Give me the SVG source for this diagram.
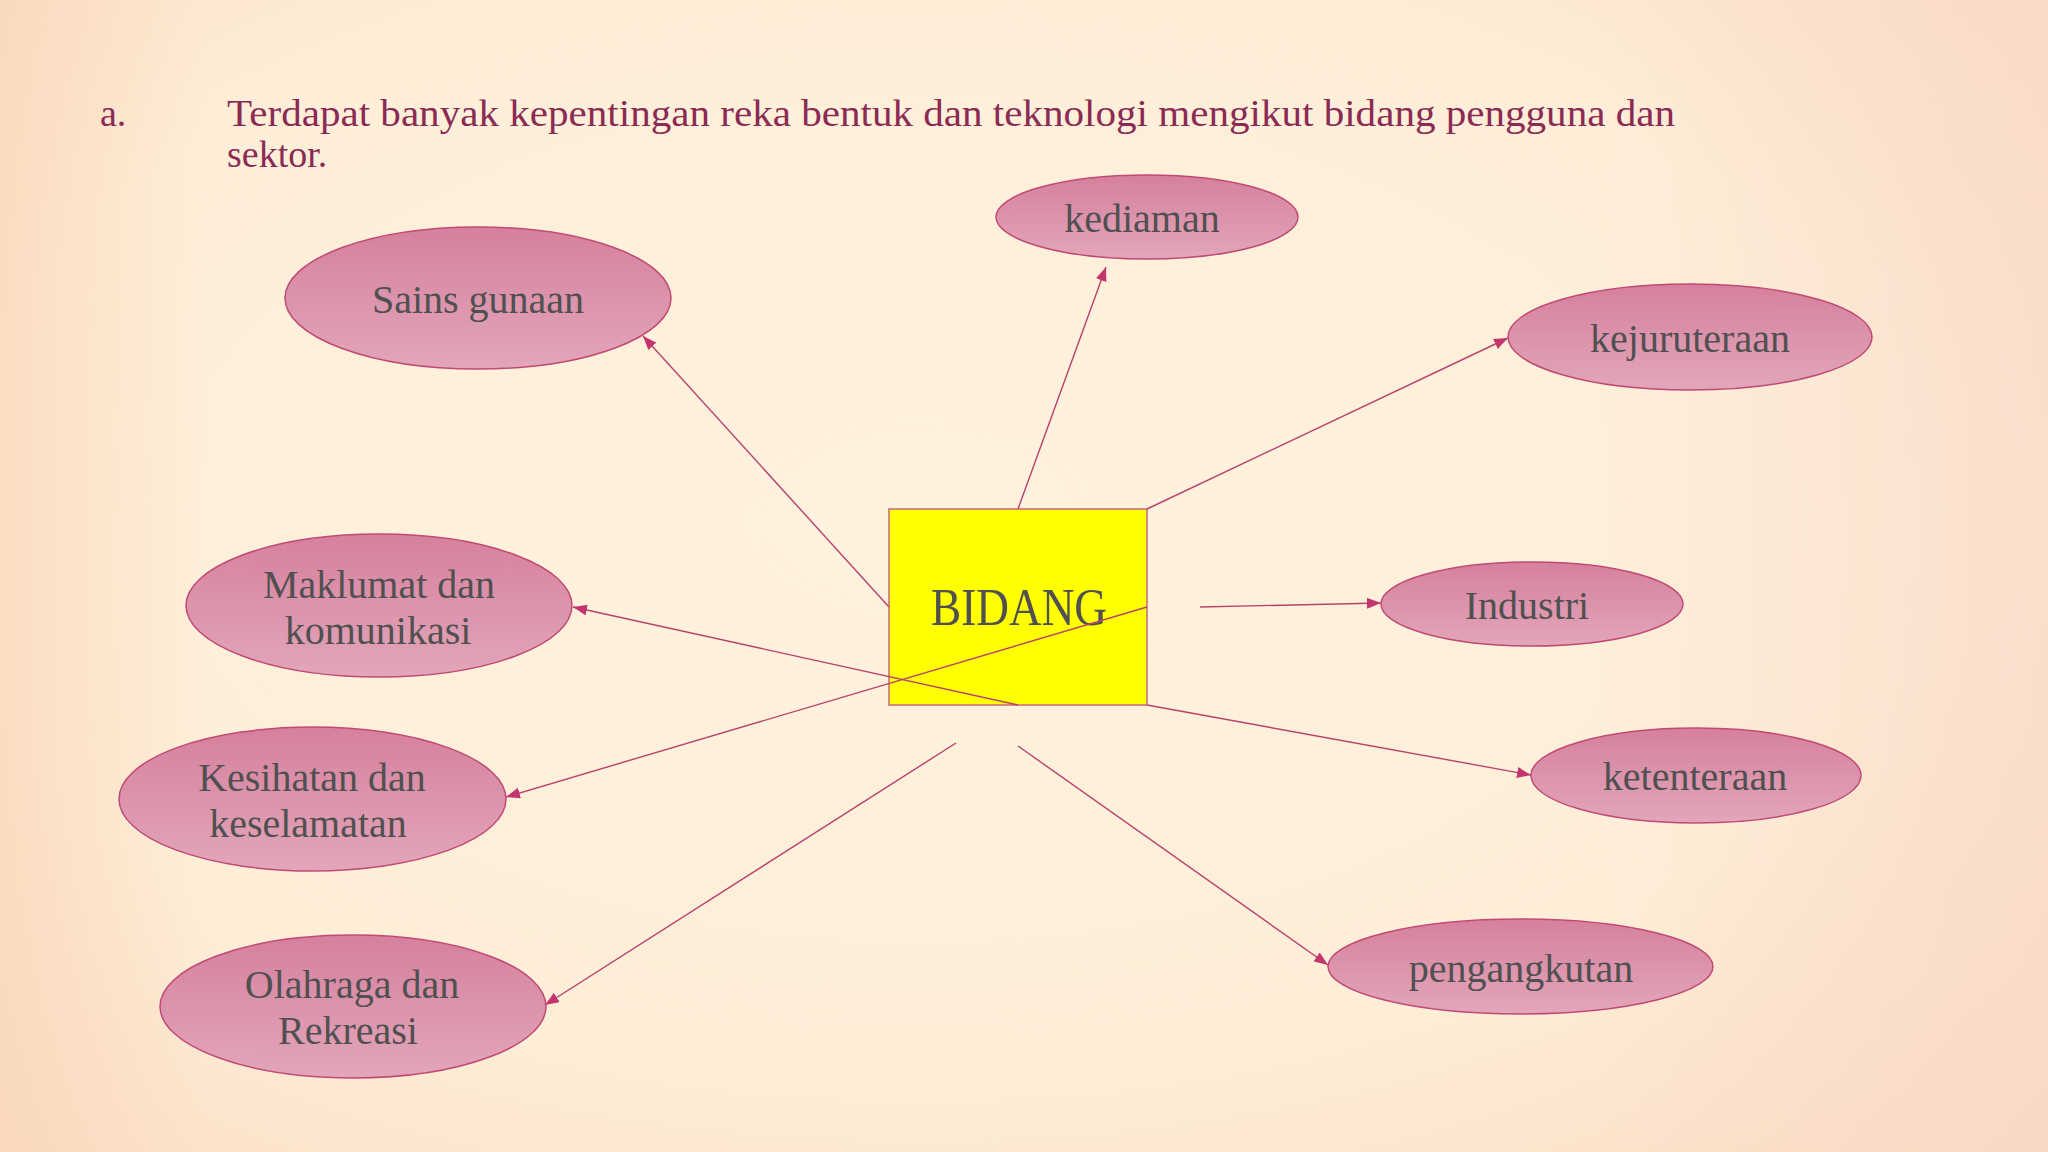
<svg xmlns="http://www.w3.org/2000/svg" width="2048" height="1152" viewBox="0 0 2048 1152">
<defs>
<radialGradient id="bg" cx="0.45" cy="0.45" r="0.8">
<stop offset="0" stop-color="#FFF2DE"/>
<stop offset="0.6" stop-color="#FEEED8"/>
<stop offset="1" stop-color="#FAD9C0"/>
</radialGradient>
<linearGradient id="rightFade" x1="0" y1="0" x2="1" y2="0">
<stop offset="0.78" stop-color="#F7D8C8" stop-opacity="0"/>
<stop offset="1" stop-color="#F7D8C8" stop-opacity="0.6"/>
</linearGradient>
<linearGradient id="leftFade" x1="0" y1="0" x2="1" y2="0">
<stop offset="0" stop-color="#F9D6B8" stop-opacity="0.7"/>
<stop offset="0.1" stop-color="#F9D6B8" stop-opacity="0"/>
</linearGradient>
<linearGradient id="ell" x1="0" y1="0" x2="0" y2="1">
<stop offset="0" stop-color="#D6809E"/>
<stop offset="1" stop-color="#E2A6BA"/>
</linearGradient>
<marker id="arr" markerUnits="userSpaceOnUse" markerWidth="14" markerHeight="11" refX="14" refY="5.5" orient="auto">
<path d="M0,0 L14,5.5 L0,11 z" fill="#C2356E"/>
</marker>
<style>
.node ellipse{fill:url(#ell);stroke:#C04A74;stroke-width:1.5}
.lbl{font-family:"Liberation Serif","Times New Roman",serif;font-size:40px;fill:#505050;text-anchor:middle}
.title{font-family:"Liberation Serif","Times New Roman",serif;font-size:38px;fill:#8A2A55}
#connectors line{stroke:#B8426E;stroke-width:1.4;fill:none;marker-end:url(#arr)}
</style>
</defs>
<rect width="2048" height="1152" fill="url(#bg)"/>
<rect width="2048" height="1152" fill="url(#rightFade)"/>
<rect width="2048" height="1152" fill="url(#leftFade)"/>

<g id="title">
<text class="title" x="100" y="126">a.</text>
<text class="title" x="227" y="126" textLength="1448" lengthAdjust="spacingAndGlyphs">Terdapat banyak kepentingan reka bentuk dan teknologi mengikut bidang pengguna dan</text>
<text class="title" x="227" y="167">sektor.</text>
</g>

<g id="node-bidang">
<rect x="889" y="509" width="258" height="196" fill="#FFFF00" stroke="#C8687A" stroke-width="1.5"/>
<text x="931" y="625" font-family="'Liberation Serif','Times New Roman',serif" font-size="52" fill="#505050" textLength="176" lengthAdjust="spacingAndGlyphs">BIDANG</text>
</g>

<g id="connectors">
<line x1="1018" y1="509" x2="1106" y2="267"/>
<line x1="1147" y1="509" x2="1508" y2="338"/>
<line x1="889" y1="607" x2="643" y2="336"/>
<line x1="1200" y1="607" x2="1381" y2="603"/>
<line x1="1018" y1="705" x2="573" y2="607"/>
<line x1="1147" y1="607" x2="506" y2="797"/>
<line x1="1147" y1="705" x2="1531" y2="775"/>
<line x1="956" y1="743" x2="545" y2="1005"/>
<line x1="1018" y1="746" x2="1328" y2="965"/>
</g>

<g id="node-kediaman" class="node">
<ellipse cx="1147" cy="217" rx="151" ry="42"/>
<text class="lbl" x="1142" y="232">kediaman</text>
</g>
<g id="node-sains" class="node">
<ellipse cx="478" cy="298" rx="193" ry="71"/>
<text class="lbl" x="478" y="313">Sains gunaan</text>
</g>
<g id="node-kejuruteraan" class="node">
<ellipse cx="1690" cy="337" rx="182" ry="53"/>
<text class="lbl" x="1690" y="352">kejuruteraan</text>
</g>
<g id="node-maklumat" class="node">
<ellipse cx="379" cy="605.5" rx="193" ry="71.5"/>
<text class="lbl" x="379" y="598">Maklumat dan</text>
<text class="lbl" x="378" y="644">komunikasi</text>
</g>
<g id="node-industri" class="node">
<ellipse cx="1532" cy="604" rx="151" ry="42"/>
<text class="lbl" x="1527" y="619">Industri</text>
</g>
<g id="node-kesihatan" class="node">
<ellipse cx="312.5" cy="799" rx="193.5" ry="72"/>
<text class="lbl" x="312" y="791">Kesihatan dan</text>
<text class="lbl" x="308" y="837">keselamatan</text>
</g>
<g id="node-ketenteraan" class="node">
<ellipse cx="1696" cy="775.5" rx="165" ry="47.5"/>
<text class="lbl" x="1695" y="790">ketenteraan</text>
</g>
<g id="node-olahraga" class="node">
<ellipse cx="353" cy="1006.5" rx="193" ry="71.5"/>
<text class="lbl" x="352" y="998">Olahraga dan</text>
<text class="lbl" x="348" y="1044">Rekreasi</text>
</g>
<g id="node-pengangkutan" class="node">
<ellipse cx="1520.5" cy="966.5" rx="192.5" ry="47.5"/>
<text class="lbl" x="1521" y="982">pengangkutan</text>
</g>
</svg>
